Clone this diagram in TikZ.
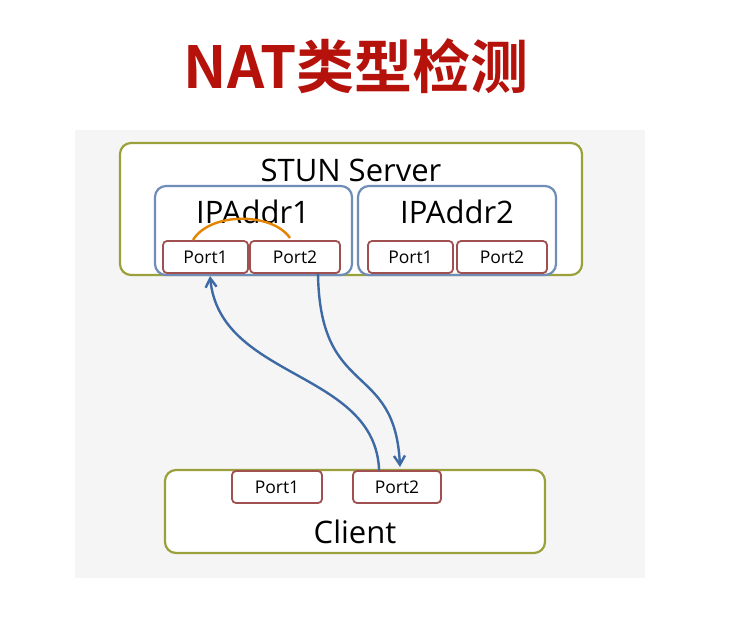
\documentclass[tikz,border=0pt]{standalone}
\usepackage{fontspec}
\setmainfont{Open Sans}
\newfontfamily\cjk{Noto Sans CJK SC Bold}
\usetikzlibrary{arrows.meta}
\definecolor{olive}{HTML}{9AA03A}
\definecolor{bluebox}{HTML}{6F8DB8}
\definecolor{portc}{HTML}{A05050}
\definecolor{arr}{HTML}{3D6AA5}
\definecolor{titler}{HTML}{B5120C}
\begin{document}
\begin{tikzpicture}[x=1pt,y=-1pt,
  box/.style={draw,rounded corners=11pt,line width=2.2pt},
  port/.style={draw=portc,rounded corners=4pt,line width=1.8pt,fill=white,font=\fontsize{17.5}{20}\selectfont},
  conn/.style={draw=arr,line width=2.4pt,-{Straight Barb[length=9pt,width=11pt]}}]
\useasboundingbox (0,0) rectangle (736,624);
\fill[white] (0,0) rectangle (736,624);
\fill[black!4] (75,130) rectangle (645,578);
\node (title) at (356,66) {\cjk\fontsize{58}{62}\selectfont\color{titler}NAT类型检测};
\draw[box,olive,fill=white] (120,143) rectangle (582,275);
\node (stun) at (351,170) {\fontsize{31}{34}\selectfont STUN Server};
\draw[box,bluebox] (155,186) rectangle (352,275);
\draw[box,bluebox] (358,186) rectangle (556,275);
\node (ip1) at (253,212) {\fontsize{31}{34}\selectfont IPAddr1};
\node (ip2) at (457,212) {\fontsize{31}{34}\selectfont IPAddr2};
\node[port,minimum width=85pt,minimum height=32pt] (s1p1) at (205.5,257) {Port1};
\node[port,minimum width=90pt,minimum height=32pt] (s1p2) at (295,257) {Port2};
\node[port,minimum width=85pt,minimum height=32pt] (s2p1) at (410.5,257) {Port1};
\node[port,minimum width=90pt,minimum height=32pt] (s2p2) at (502,257) {Port2};
\draw[box,olive,fill=white] (165,470) rectangle (545,553);
\node[port,minimum width=90pt,minimum height=32pt] (cp1) at (277,487) {Port1};
\node[port,minimum width=88pt,minimum height=32pt] (cp2) at (397,487) {Port2};
\node (client) at (355,532) {\fontsize{31}{34}\selectfont Client};
\draw[draw={orange!85!yellow!90!black},line width=2.4pt] (193,240) .. controls (210,212) and (272,212) .. (290,238);
\draw[conn] (cp2.north west)++(27,0) coordinate (a) .. controls (375,370) and (220,380) .. (210,276);
\draw[conn] (318,274) .. controls (320,400) and (395,360) .. (400,467);
\end{tikzpicture}
\end{document}
